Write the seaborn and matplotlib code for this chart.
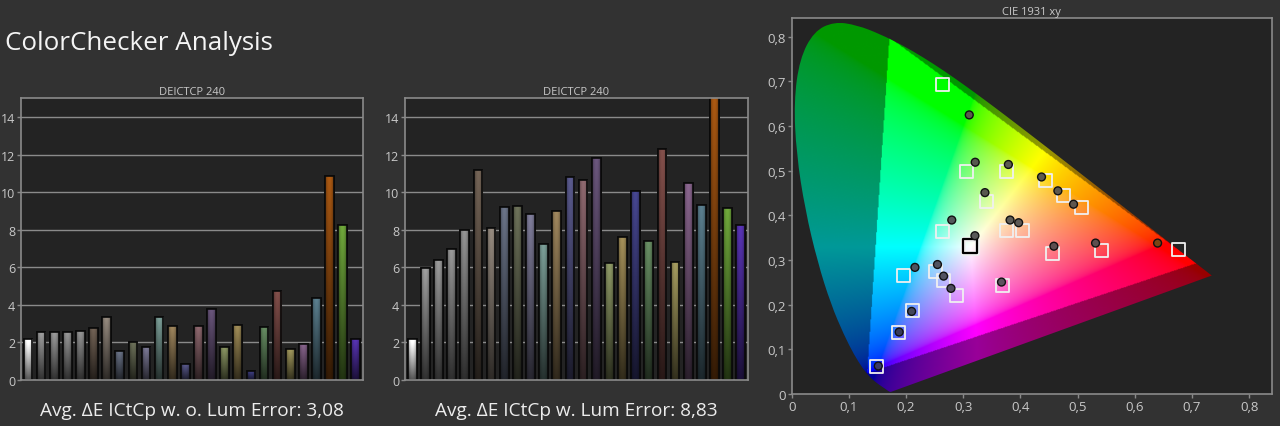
import numpy as np
import pandas as pd
import matplotlib
matplotlib.use("Agg")
import matplotlib.pyplot as plt
from matplotlib.path import Path
from matplotlib.patches import PathPatch, Rectangle
import seaborn as sns

# ---------------- data ----------------
patches = [f"P{i+1}" for i in range(26)]
bar_colors = ["#f2f2f2", "#8c8c8c", "#898989", "#868686", "#838383", "#66584c",
              "#847a70", "#5e6678", "#60644f", "#706e88", "#6d8c86", "#8c7652",
              "#50507e", "#7e5c62", "#5e4c6e", "#7e885a", "#907e4e", "#3e3e80",
              "#5c7e58", "#744642", "#928a54", "#7a5a7e", "#50707e", "#964e10",
              "#629434", "#4e2ea0"]
de_no_lum = [2.16, 2.55, 2.55, 2.55, 2.6, 2.78, 3.35, 1.54, 2.02, 1.77, 3.33, 2.87,
             0.85, 2.87, 3.78, 1.77, 2.93, 0.48, 2.84, 4.75, 1.67, 1.93, 4.34,
             10.85, 8.23, 2.16]
de_lum = [2.2, 5.96, 6.37, 6.95, 8.01, 11.17, 8.09, 9.2, 9.27, 8.83, 7.25, 8.99,
          10.83, 10.62, 11.84, 6.22, 7.6, 10.05, 7.38, 12.32, 6.29, 10.5, 9.34,
          16.5, 9.15, 8.23]
bar_ticks = [0, 2, 4, 6, 8, 10, 12, 14]

target_x = [0.263, 0.3065, 0.376, 0.340, 0.444, 0.4755, 0.507, 0.263, 0.376, 0.4045,
            0.456, 0.542, 0.677, 0.196, 0.251, 0.265, 0.288, 0.368, 0.212, 0.1865, 0.149]
target_y = [0.693, 0.4985, 0.499, 0.4306, 0.479, 0.444, 0.418, 0.364, 0.367, 0.367,
            0.315, 0.3216, 0.3246, 0.265, 0.2746, 0.2537, 0.2216, 0.2425, 0.188, 0.138, 0.062]
white_x, white_y = [0.3115], [0.332]
meas_x = [0.3106, 0.321, 0.379, 0.338, 0.437, 0.4656, 0.493, 0.280, 0.382, 0.397,
          0.3205, 0.4586, 0.5315, 0.640, 0.2156, 0.255, 0.2657, 0.2786, 0.367, 0.2098,
          0.188, 0.1515]
meas_y = [0.625, 0.519, 0.514, 0.451, 0.486, 0.455, 0.425, 0.3896, 0.3896, 0.3836,
          0.3545, 0.331, 0.338, 0.338, 0.2836, 0.290, 0.264, 0.2366, 0.2507, 0.185,
          0.1388, 0.0627]
meas_fill = ["#5a5a50", "#56584e", "#5c5c50", "#58584e", "#5e5a4e", "#5e584e", "#5e564e",
             "#52585a", "#5e5c56", "#5e5a56", "#585858", "#5e4e50", "#5e4e4e", "#7a4414",
             "#4c5460", "#505460", "#525260", "#4e4c5e", "#5e5260", "#44465a", "#363a5a",
             "#3a3a66"]
xy_ticks = [0, 0.1, 0.2, 0.3, 0.4, 0.5, 0.6, 0.7, 0.8]
xy_labels = ["0", "0,1", "0,2", "0,3", "0,4", "0,5", "0,6", "0,7", "0,8"]

# CIE 1931 2deg spectral locus, 5 nm steps (380..700 nm)
locus_x = [0.1741, 0.1740, 0.1738, 0.1736, 0.1733, 0.1730, 0.1726, 0.1721, 0.1714,
           0.1703, 0.1689, 0.1669, 0.1644, 0.1611, 0.1566, 0.1510, 0.1440, 0.1355,
           0.1241, 0.1096, 0.0913, 0.0687, 0.0454, 0.0235, 0.0082, 0.0039, 0.0139,
           0.0389, 0.0743, 0.1142, 0.1547, 0.1929, 0.2296, 0.2658, 0.3016, 0.3373,
           0.3731, 0.4087, 0.4441, 0.4788, 0.5125, 0.5448, 0.5752, 0.6029, 0.6270,
           0.6482, 0.6658, 0.6801, 0.6915, 0.7006, 0.7079, 0.7140, 0.7190, 0.7230,
           0.7260, 0.7283, 0.7300, 0.7311, 0.7320, 0.7327, 0.7334, 0.7340, 0.7344,
           0.7346, 0.7347]
locus_y = [0.0050, 0.0050, 0.0049, 0.0049, 0.0048, 0.0048, 0.0048, 0.0048, 0.0051,
           0.0058, 0.0069, 0.0086, 0.0109, 0.0138, 0.0177, 0.0227, 0.0297, 0.0399,
           0.0578, 0.0868, 0.1327, 0.2007, 0.2950, 0.4127, 0.5384, 0.6548, 0.7502,
           0.8120, 0.8338, 0.8262, 0.8059, 0.7816, 0.7543, 0.7243, 0.6923, 0.6589,
           0.6245, 0.5896, 0.5547, 0.5202, 0.4866, 0.4544, 0.4242, 0.3965, 0.3725,
           0.3514, 0.3340, 0.3197, 0.3083, 0.2993, 0.2920, 0.2859, 0.2809, 0.2770,
           0.2740, 0.2717, 0.2700, 0.2689, 0.2680, 0.2673, 0.2666, 0.2660, 0.2656,
           0.2654, 0.2653]
gamut_x = [0.708, 0.170, 0.131]
gamut_y = [0.292, 0.797, 0.046]

# ---------------- style ----------------
BG = "#323232"
PLOT_BG = "#232323"
TXT = "#c8c8c8"
sns.set_theme(style="dark")
plt.rcParams["font.family"] = ["Open Sans", "DejaVu Sans"]

fig = plt.figure(figsize=(12.8, 4.27), dpi=100, facecolor=BG)

fig.text(0.004, 0.898, "ColorChecker Analysis", color="#f4f4f4", fontsize=18.7,
         ha="left", va="center")


def bar_panel(rect, values, footer, shift):
    ax = fig.add_axes(rect)
    ax.set_facecolor(PLOT_BG)
    df = pd.DataFrame({"patch": patches, "value": values})
    sns.barplot(data=df, x="patch", y="value", hue="patch", palette=bar_colors,
                legend=False, width=0.66, ax=ax, edgecolor="#0a0a0a", linewidth=1.2,
                saturation=1)
    ax.set_ylim(0, 15)
    ax.set_xlim(-0.55, 25.55)
    for p, col in zip(list(ax.patches), bar_colors):
        x0, y0 = p.get_x(), p.get_y()
        w, h = p.get_width(), p.get_height()
        base = np.array(matplotlib.colors.to_rgb(col))
        v = np.linspace(0.35, 1.15, 64)[:, None]
        hz = 1 - 0.35 * (np.linspace(-1, 1, 16) ** 2)[None, :]
        img = np.clip(base[None, None, :] * (v * hz)[:, :, None], 0, 1)
        im = ax.imshow(img, extent=(x0, x0 + w, y0, y0 + min(h, 15)), origin="lower",
                       aspect="auto", zorder=p.get_zorder() + 0.1, interpolation="bilinear")
        im.set_clip_path(p)
        ax.add_patch(Rectangle((x0, y0), w, h, fill=False, edgecolor="#0a0a0a",
                               linewidth=1.2, zorder=p.get_zorder() + 0.2))
    ax.set_aspect("auto")
    ax.set_xlim(-0.55, 25.55)
    ax.set_ylim(0, 15)
    ax.set_yticks(bar_ticks)
    ax.set_yticklabels([str(t) for t in bar_ticks], color=TXT, fontsize=9)
    ax.set_xticks([])
    ax.set_xlabel("")
    ax.set_ylabel("")
    ax.yaxis.grid(True, color="#8a8a8a", linewidth=1.0)
    ax.set_axisbelow(True)
    ax.tick_params(axis="y", length=3, width=1, color="#8a8a8a", pad=1, left=True)
    for s in ax.spines.values():
        s.set_color("#8a8a8a")
        s.set_linewidth(1.2)
    ax.set_title("DEICTCP 240", color=TXT, fontsize=8, pad=3)
    cx = rect[0] + rect[2] / 2
    fig.text(cx + shift, 0.038, footer, color="#ececec", fontsize=13.7, ha="center",
             va="center")
    return ax


bar_panel([0.0162, 0.1077, 0.2674, 0.660], de_no_lum,
          "Avg. \u0394E ICtCp w. o. Lum Error: 3,08", 0.0002)
bar_panel([0.3164, 0.1077, 0.2680, 0.660], de_lum,
          "Avg. \u0394E ICtCp w. Lum Error: 8,83", 0.0)

# ---------------- CIE panel ----------------
ax = fig.add_axes([0.6185, 0.0749, 0.3752, 0.8806])
ax.set_facecolor(PLOT_BG)

n = 520
gx = np.linspace(0, 0.75, n)
gy = np.linspace(0, 0.85, n)
X, Y = np.meshgrid(gx, gy)
Ys = np.maximum(Y, 1e-4)
Xc = X / Ys
Zc = (1 - X - Y) / Ys
M = np.array([[3.2406, -1.5372, -0.4986],
              [-0.9689, 1.8758, 0.0415],
              [0.0557, -0.2040, 1.0570]])
rgb = np.stack([Xc, np.ones_like(Xc), Zc], axis=-1) @ M.T
rgb = np.clip(rgb, 0, None)
rgb = rgb / np.maximum(rgb.max(axis=-1, keepdims=True), 1e-6)
rgb = np.where(rgb <= 0.0031308, 12.92 * rgb, 1.055 * np.power(rgb, 1 / 2.4) - 0.055)
rgb = np.clip(rgb, 0, 1)
tri = Path(np.column_stack([gamut_x, gamut_y]))
inside = tri.contains_points(np.column_stack([X.ravel(), Y.ravel()])).reshape(X.shape)
rgb = np.where(inside[:, :, None], rgb, rgb * 0.6)

im = ax.imshow(rgb, extent=(0, 0.75, 0, 0.85), origin="lower", aspect="auto",
               interpolation="bilinear", zorder=1)

# smooth outline of the locus (quadratic Bezier through the tabulated points)
pts = np.column_stack([locus_x, locus_y])
verts = [pts[0]]
codes = [Path.MOVETO]
for i in range(1, len(pts) - 1):
    verts += [pts[i], (pts[i] + pts[i + 1]) / 2]
    codes += [Path.CURVE3, Path.CURVE3]
verts += [pts[-1], pts[0]]
codes += [Path.LINETO, Path.CLOSEPOLY]
loc_patch = PathPatch(Path(verts, codes), facecolor="none", edgecolor="none",
                      transform=ax.transData)
ax.add_patch(loc_patch)
im.set_clip_path(loc_patch)

sns.scatterplot(x=target_x, y=target_y, marker="s", s=88, facecolor="none",
                edgecolor="#f0f0f0", linewidth=1.3, ax=ax, zorder=3)
sns.scatterplot(x=white_x, y=white_y, marker="s", s=100, facecolor="none",
                edgecolor="#f0f0f0", linewidth=3.4, ax=ax, zorder=4)
sns.scatterplot(x=white_x, y=white_y, marker="s", s=100, facecolor="none",
                edgecolor="#000000", linewidth=1.6, ax=ax, zorder=4.5)
sns.scatterplot(x=meas_x, y=meas_y, marker="o", s=32, c=meas_fill,
                edgecolor="#111111", linewidth=1.0, ax=ax, zorder=5)

ax.set_xlim(0, 0.84)
ax.set_ylim(0, 0.842)
ax.set_xticks(xy_ticks)
ax.set_xticklabels(xy_labels, color=TXT, fontsize=9.5)
ax.set_yticks(xy_ticks)
ax.set_yticklabels(xy_labels, color=TXT, fontsize=9.5)
ax.tick_params(length=3, width=1, color="#8a8a8a", pad=1, left=True, bottom=True)
ax.grid(False)
for s in ax.spines.values():
    s.set_color("#8a8a8a")
    s.set_linewidth(1.2)
ax.set_title("CIE 1931 xy", color=TXT, fontsize=8, pad=3)

fig.savefig("out.png", dpi=100, facecolor=BG)
